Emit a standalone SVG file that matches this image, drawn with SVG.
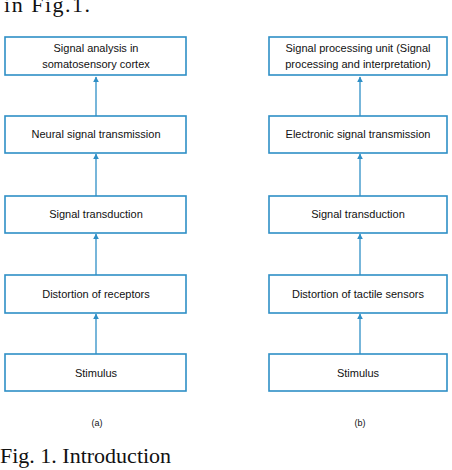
<svg xmlns="http://www.w3.org/2000/svg" width="452" height="470" viewBox="0 0 452 470">
<defs>
<style>
.box{fill:#fff;stroke:#2e8fc6;stroke-width:1.6}
.t{font-family:"Liberation Sans",Arial,sans-serif;font-size:11px;fill:#111;text-anchor:middle}
.c{font-family:"Liberation Sans",Arial,sans-serif;font-size:9px;fill:#111;text-anchor:middle}
.serif{font-family:"Liberation Serif","Times New Roman",serif;font-size:22px;fill:#111}
.ln{stroke:#2e8fc6;stroke-width:1.3;fill:none}
</style>
<marker id="ah" viewBox="0 0 10 10" refX="9" refY="5" markerWidth="6" markerHeight="6" markerUnits="userSpaceOnUse" orient="auto">
<path d="M0,0 L10,5 L0,10 Z" fill="#2e8fc6"/>
</marker>
</defs>
<rect width="452" height="470" fill="#fff"/>
<text class="serif" x="4" y="12" textLength="86" lengthAdjust="spacing">in Fig.1.</text>
<g id="connectors">
<line class="ln" x1="96" y1="354" x2="96" y2="314" marker-end="url(#ah)"/>
<line class="ln" x1="96" y1="275" x2="96" y2="234" marker-end="url(#ah)"/>
<line class="ln" x1="96" y1="196" x2="96" y2="154" marker-end="url(#ah)"/>
<line class="ln" x1="96" y1="116" x2="96" y2="77" marker-end="url(#ah)"/>
<line class="ln" x1="360" y1="354" x2="360" y2="314" marker-end="url(#ah)"/>
<line class="ln" x1="360" y1="275" x2="360" y2="234" marker-end="url(#ah)"/>
<line class="ln" x1="360" y1="196" x2="360" y2="154" marker-end="url(#ah)"/>
<line class="ln" x1="360" y1="116" x2="360" y2="77" marker-end="url(#ah)"/>
</g>
<g id="a-top"><rect class="box" x="5" y="37" width="181" height="38"/><text class="t" x="96" y="52">Signal analysis in</text><text class="t" x="96" y="68">somatosensory cortex</text></g>
<g id="a-neural"><rect class="box" x="5" y="116" width="181" height="37"/><text class="t" x="96" y="138">Neural signal transmission</text></g>
<g id="a-trans"><rect class="box" x="5" y="196" width="181" height="37"/><text class="t" x="96" y="218">Signal transduction</text></g>
<g id="a-dist"><rect class="box" x="5" y="275" width="181" height="38"/><text class="t" x="96" y="298">Distortion of receptors</text></g>
<g id="a-stim"><rect class="box" x="5" y="354" width="181" height="37"/><text class="t" x="96" y="377">Stimulus</text></g>
<g id="b-top"><rect class="box" x="269" y="37" width="178" height="38"/><text class="t" x="358" y="52">Signal processing unit (Signal</text><text class="t" x="358" y="68">processing and interpretation)</text></g>
<g id="b-elec"><rect class="box" x="269" y="116" width="178" height="37"/><text class="t" x="358" y="138">Electronic signal transmission</text></g>
<g id="b-trans"><rect class="box" x="269" y="196" width="178" height="37"/><text class="t" x="358" y="218">Signal transduction</text></g>
<g id="b-dist"><rect class="box" x="269" y="275" width="178" height="38"/><text class="t" x="358" y="298">Distortion of tactile sensors</text></g>
<g id="b-stim"><rect class="box" x="269" y="354" width="178" height="37"/><text class="t" x="358" y="377">Stimulus</text></g>
<text class="c" x="97" y="426">(a)</text>
<text class="c" x="360" y="426">(b)</text>
<text class="serif" x="0" y="463">Fig. 1. Introduction</text>
</svg>
